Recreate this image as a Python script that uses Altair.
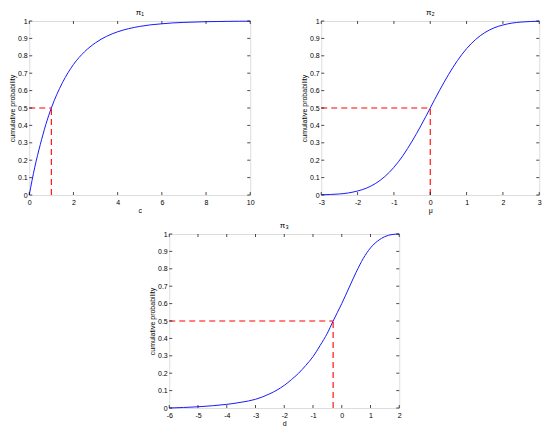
import altair as alt
import pandas as pd

# ---- data ----
c_x = [0, 0.25, 0.5, 0.75, 1, 1.5, 2, 2.5, 3, 3.5, 4, 4.5, 5, 5.5, 6, 6.5, 7, 7.5, 8, 8.5, 9, 9.5, 10]
c_p = [0, 0.16, 0.29, 0.405, 0.5, 0.645, 0.75, 0.823, 0.875, 0.912, 0.938, 0.956, 0.969, 0.978,
       0.984, 0.989, 0.992, 0.994, 0.996, 0.997, 0.998, 0.9986, 0.999]

mu_x = [-3, -2.75, -2.5, -2.25, -2, -1.75, -1.5, -1.25, -1, -0.75, -0.5, -0.25, 0,
        0.25, 0.5, 0.75, 1, 1.25, 1.5, 1.75, 2, 2.25, 2.5, 2.75, 3]
mu_p = [0.001, 0.003, 0.006, 0.012, 0.023, 0.040, 0.067, 0.106, 0.159, 0.227, 0.309, 0.401, 0.5,
        0.599, 0.691, 0.773, 0.841, 0.894, 0.933, 0.960, 0.977, 0.988, 0.994, 0.997, 0.999]

d_x = [-6, -5.5, -5, -4.5, -4, -3.5, -3, -2.5, -2, -1.75, -1.5, -1.25, -1, -0.75, -0.5, -0.3,
       0, 0.25, 0.5, 0.75, 1, 1.25, 1.5, 1.75, 2]
d_p = [0.0, 0.003, 0.007, 0.013, 0.021, 0.033, 0.05, 0.082, 0.13, 0.163, 0.2, 0.245, 0.295,
       0.36, 0.43, 0.50, 0.60, 0.69, 0.78, 0.86, 0.92, 0.96, 0.985, 0.997, 1.0]

medians = [1.0, 0.0, -0.3]
titles = ["π\u2081", "π\u2082", "π\u2083"]
xlabels = ["c", "μ", "d"]
x_domains = [[0, 10], [-3, 3], [-6, 2]]
x_ticks = [[0, 2, 4, 6, 8, 10], [-3, -2, -1, 0, 1, 2, 3], [-6, -5, -4, -3, -2, -1, 0, 1, 2]]
y_ticks = [0, 0.1, 0.2, 0.3, 0.4, 0.5, 0.6, 0.7, 0.8, 0.9, 1]
series = [(c_x, c_p), (mu_x, mu_p), (d_x, d_p)]

FONT = "Liberation Sans"
TL = 3  # inward tick length (px)


def panel(i, W, H):
    xs, ps = series[i]
    df = pd.DataFrame({"x": xs, "p": ps})
    xd = x_domains[i]
    xsc = alt.Scale(domain=xd, nice=False, zero=False)
    ysc = alt.Scale(domain=[0, 1], nice=False)
    common = dict(tickSize=0, domain=False, grid=False, labelOverlap=False, labelFlush=False,
                  labelExpr="toString(datum.value)", labelFontSize=7, titleFontSize=7,
                  titleFontWeight="normal")
    xax = alt.Axis(values=x_ticks[i], labelPadding=3, title=xlabels[i], titlePadding=1, **common)
    yax = alt.Axis(values=y_ticks, labelPadding=2, title="cumulative probability",
                   titlePadding=2, **common)

    line = alt.Chart(df).mark_line(color="#1a1aff", strokeWidth=1, interpolate="monotone").encode(
        x=alt.X("x:Q", scale=xsc, axis=xax),
        y=alt.Y("p:Q", scale=ysc, axis=yax),
    )
    med = pd.DataFrame({"x0": [xd[0]], "m": [medians[i]], "h": [0.5], "z": [0.0]})
    rstyle = dict(color="#ff0000", strokeWidth=1.1, strokeDash=[6, 4])
    hrule = alt.Chart(med).mark_rule(**rstyle).encode(
        x=alt.X("x0:Q", scale=xsc, axis=xax), x2="m:Q", y=alt.Y("h:Q", scale=ysc, axis=yax))
    vrule = alt.Chart(med).mark_rule(**rstyle).encode(
        x=alt.X("m:Q", scale=xsc, axis=xax), y=alt.Y("z:Q", scale=ysc, axis=yax), y2="h:Q")

    xt = pd.DataFrame({"t": x_ticks[i]})
    yt = pd.DataFrame({"t": y_ticks})
    tstyle = dict(color="black", strokeWidth=0.7)
    xb = alt.Chart(xt).mark_rule(**tstyle).encode(
        x=alt.X("t:Q", scale=xsc, axis=xax), y=alt.value(H), y2=alt.value(H - TL))
    xtop = alt.Chart(xt).mark_rule(**tstyle).encode(
        x=alt.X("t:Q", scale=xsc, axis=xax), y=alt.value(0), y2=alt.value(TL))
    yl = alt.Chart(yt).mark_rule(**tstyle).encode(
        y=alt.Y("t:Q", scale=ysc, axis=yax), x=alt.value(0), x2=alt.value(TL))
    yr = alt.Chart(yt).mark_rule(**tstyle).encode(
        y=alt.Y("t:Q", scale=ysc, axis=yax), x=alt.value(W), x2=alt.value(W - TL))

    return alt.layer(line, hrule, vrule, xb, xtop, yl, yr).properties(
        width=W, height=H,
        title=alt.TitleParams(titles[i], fontSize=8, fontWeight="normal", offset=0, font=FONT,
                              color="black"),
    )


p1 = panel(0, 221, 174)
p2 = panel(1, 218, 174)
p3 = panel(2, 230, 174)

top = alt.hconcat(p1, p2, spacing=44)
chart = alt.vconcat(top, p3, spacing=7, center=True).properties(padding=0).configure_view(
    stroke="black", strokeWidth=0.7
).configure_axis(
    labelFont=FONT, titleFont=FONT, labelColor="black", titleColor="black"
).configure(background="white")

chart.save("out.html", embed_options={"renderer": "svg", "actions": False})
